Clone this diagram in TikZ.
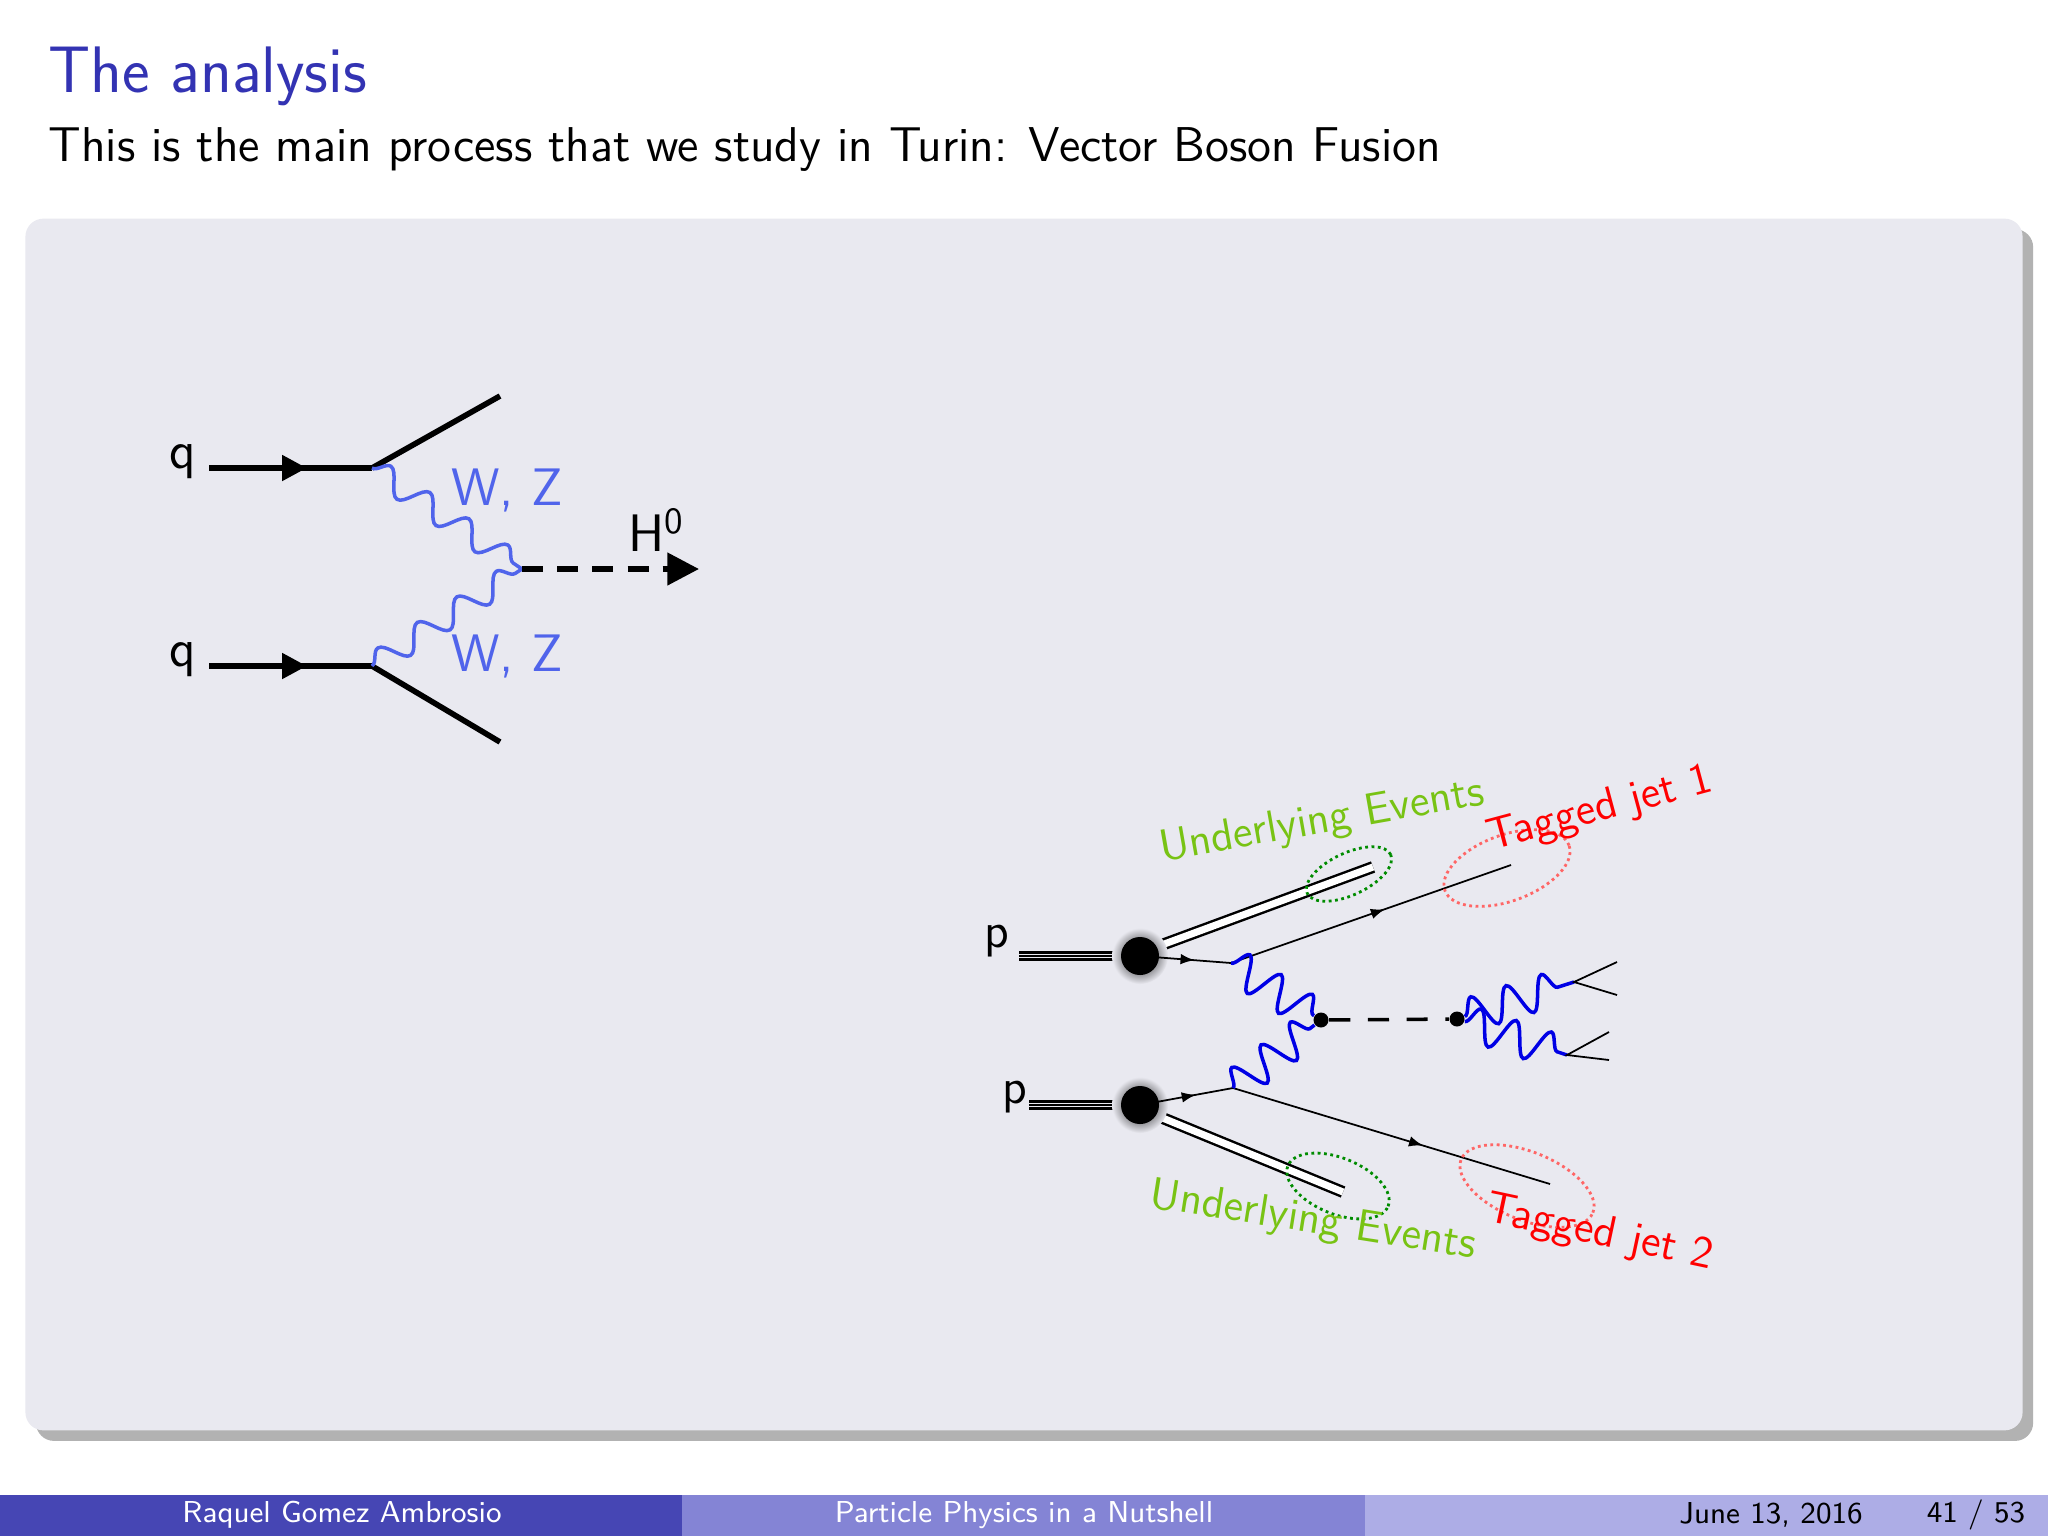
\documentclass[tikz,border=0pt]{standalone}
\usepackage{fontspec}
\usetikzlibrary{decorations.pathmorphing,decorations.markings,arrows.meta,shadows,shapes.geometric}
\definecolor{boxbg}{RGB}{233,233,240}
\definecolor{titleblue}{RGB}{51,51,179}
\definecolor{wz}{RGB}{80,100,235}
\definecolor{ue}{RGB}{120,195,20}
\definecolor{fa}{RGB}{70,70,180}
\definecolor{fb}{RGB}{132,132,213}
\definecolor{fc}{RGB}{173,173,230}
\tikzset{
  lbl/.style={font=\sffamily, inner sep=0pt},
  fermion/.style={line width=1.6pt, postaction={decorate}, decoration={markings, mark=at position 0.6 with {\arrow{Triangle[length=7pt,width=7pt]}}}},
  thinf/.style={line width=0.5pt, postaction={decorate}, decoration={markings, mark=at position #1 with {\arrow{Latex[length=4pt,width=3pt]}}}},
  bosonA/.style={draw=wz, line width=1pt, decorate, decoration={snake, segment length=0.47cm, amplitude=0.12cm}},
  bosonB/.style={draw=blue!90!black, line width=1pt, decorate, decoration={snake, segment length=0.37cm, amplitude=0.17cm}},
  dbl/.style={double, double distance=2pt, line width=0.7pt},
  trp/.style={line width=2.6pt, draw=black, postaction={draw=boxbg, line width=1.2pt}, postaction={draw=black,line width=0.4pt}},
  blob/.style={circle, minimum size=0.56cm, inner sep=0pt, shading=radial, inner color=black, middle color=black, outer color=boxbg},
  blobc/.style={circle, minimum size=0.38cm, inner sep=0pt, fill=black},
  vdot/.style={circle, fill=black, inner sep=0pt, minimum size=0.15cm},
  uell/.style={ellipse, draw=green!55!black, densely dotted, line width=0.8pt, inner sep=0pt},
  rell/.style={ellipse, draw=red!60, densely dotted, line width=0.8pt, inner sep=0pt},
  big/.style={lbl, font=\sffamily\fontsize{15}{18}\selectfont},
  rlab/.style={lbl, font=\sffamily\fontsize{12.7}{15}\selectfont},
  foot/.style={lbl, font=\sffamily\fontsize{8.6}{10}\selectfont},
}
\begin{document}
\begin{tikzpicture}[x=0.01cm,y=-0.01cm]
\useasboundingbox (0,0) rectangle (2048,1536);
\fill[white] (0,0) rectangle (2048,1536);
% title
\node[lbl, anchor=west, text=titleblue, font=\sffamily\fontsize{18.7}{22}\selectfont] (title) at (48,76) {The analysis};
\node[lbl, anchor=west, font=\sffamily\fontsize{13.9}{16}\selectfont] (sub) at (48,150) {This is the main process that we study in Turin: Vector Boson Fusion};
% box
\node[fill=boxbg, rounded corners=0.18cm, minimum width=19.96cm, minimum height=12.11cm, inner sep=0pt, drop shadow={shadow xshift=3pt, shadow yshift=-3pt, opacity=0.6}] (box) at (1024,824.5) {};
% footer
\fill[fa] (0,1495) rectangle (682,1536);
\fill[fb] (682,1495) rectangle (1365,1536);
\fill[fc] (1365,1495) rectangle (2048,1536);
\node[foot, text=white] (f1) at (342,1515) {Raquel Gomez Ambrosio};
\node[foot, text=white] (f2) at (1024,1515) {Particle Physics in a Nutshell};
\node[foot] (f3) at (1771,1515) {June 13, 2016};
\node[foot] (f4) at (1976,1515) {41 / 53};
% left diagram
\node[big] (q1) at (183,462) {q};
\node[big] (q2) at (183,660) {q};
\coordinate (a1) at (209,468); \coordinate (v1) at (372,468); \coordinate (o1) at (500,396);
\coordinate (a2) at (209,666); \coordinate (v2) at (372,666); \coordinate (o2) at (500,742);
\coordinate (vh) at (522,569); \coordinate (hend) at (699,569);
\draw[fermion] (a1) -- (v1);
\draw[line width=1.6pt] (v1) -- (o1);
\draw[fermion] (a2) -- (v2);
\draw[line width=1.6pt] (v2) -- (o2);
\draw[bosonA] (v1) -- (vh);
\draw[bosonA] (v2) -- (vh);
\draw[line width=1.6pt, dash pattern=on 6pt off 4pt, -{Triangle[length=9pt,width=9pt]}] (vh) -- (hend);
\node[big] (hl) at (657,530) {H\textsuperscript{0}};
\node[big, text=wz] (wz1) at (507,490) {W, Z};
\node[big, text=wz] (wz2) at (507,656) {W, Z};
% right diagram
\node[rlab, font=\sffamily\fontsize{14}{16}\selectfont] (p1) at (997,941) {p};
\node[rlab, font=\sffamily\fontsize{14}{16}\selectfont] (p2) at (1015,1097) {p};
\coordinate (pi1) at (1019,956); \coordinate (pi2) at (1029,1105);
\coordinate (b1) at (1140,956);
\coordinate (b2) at (1140,1105);
\coordinate (w1) at (1231,963); \coordinate (j1) at (1511,865);
\coordinate (w2) at (1233,1088); \coordinate (j2) at (1550,1184);
\coordinate (u1) at (1373,867); \coordinate (u2) at (1343,1192);
\node[vdot] (d1) at (1321,1020) {};
\node[vdot] (d2) at (1457,1019) {};
\coordinate (z1) at (1574,982); \coordinate (z2) at (1567,1055);
\draw[trp] (pi1) -- (b1);
\draw[trp] (pi2) -- (b2);
\draw[dbl] (1148,950) -- (u1);
\draw[dbl] (1148,1112) -- (u2);
\node[blob] (bl1) at (b1) {};
\node[blob] (bl2) at (b2) {};
\node[blobc] at (b1) {};
\node[blobc] at (b2) {};
\draw[thinf=0.6] (b1) -- (w1);
\draw[thinf=0.55] (w1) -- (j1);
\draw[thinf=0.6] (b2) -- (w2);
\draw[thinf=0.6] (w2) -- (j2);
\draw[bosonB] (w1) -- (d1);
\draw[bosonB] (w2) -- (d1);
\draw[line width=1pt, dash pattern=on 6pt off 5pt] (d1) -- (d2);
\draw[bosonB] (d2) -- (z1);
\draw[bosonB] (d2) -- (z2);
\draw[line width=0.5pt] (1617,962) -- (z1) -- (1617,995);
\draw[line width=0.5pt] (1609,1032) -- (z2) -- (1609,1060);
\node[uell, minimum width=0.92cm, minimum height=0.42cm, rotate=25] (e1) at (1349,874) {};
\node[rell, minimum width=1.32cm, minimum height=0.66cm, rotate=20] (e2) at (1507,868) {};
\node[uell, minimum width=1.08cm, minimum height=0.56cm, rotate=-22] (e3) at (1338,1186) {};
\node[rell, minimum width=1.42cm, minimum height=0.68cm, rotate=-22] (e4) at (1527,1186) {};
\node[rlab, text=ue, rotate=10] (t1) at (1322,822) {Underlying Events};
\node[rlab, text=red, rotate=15] (t2) at (1600,810) {Tagged jet 1};
\node[rlab, text=ue, rotate=-9] (t3) at (1313,1222) {Underlying Events};
\node[rlab, text=red, rotate=-12] (t4) at (1599,1234) {Tagged jet 2};
\end{tikzpicture}
\end{document}
